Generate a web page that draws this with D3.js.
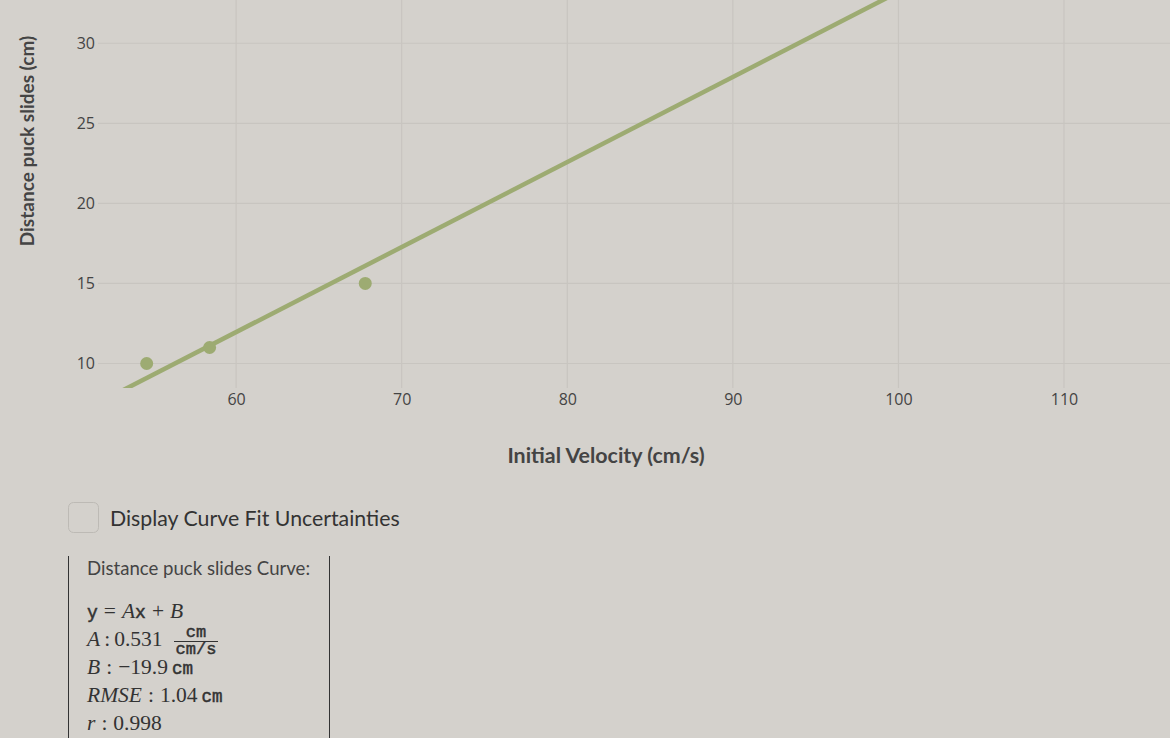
<!DOCTYPE html>
<html><head><meta charset="utf-8">
<script src="https://cdn.jsdelivr.net/npm/d3@7"></script>
<style>
html,body{margin:0;padding:0;background:#d4d1cc;overflow:hidden;}
svg{display:block;}
</style></head>
<body>
<div id="chart"></div>
<script>
// ---- data ----
const velocity = [54.6, 58.4, 67.8];          // Initial Velocity (cm/s)
const distance = [10.0, 11.0, 15.0];          // Distance puck slides (cm)
const xTicks = [60, 70, 80, 90, 100, 110];
const yTicks = [10, 15, 20, 25, 30];
const fitA = 0.531, fitB = -19.9, fitRMSE = 1.04, fitR = 0.998;

const W = 1170, H = 738;
const svg = d3.select("#chart").append("svg").attr("width", W).attr("height", H);

const plot = {left: 98, right: 1170, top: 0, bottom: 388};
const x = d3.scaleLinear().domain([51.66, 116.4]).range([plot.left, plot.right]);
const y = d3.scaleLinear().domain([8.47, 32.7]).range([plot.bottom, plot.top]);

svg.append("defs").append("clipPath").attr("id","clip")
  .append("rect").attr("x",plot.left).attr("y",plot.top)
  .attr("width",plot.right-plot.left).attr("height",plot.bottom-plot.top);

const grid = "#c8c5c0";
svg.append("g").selectAll("line").data(xTicks).join("line")
  .attr("x1", d=>x(d)).attr("x2", d=>x(d)).attr("y1", plot.top).attr("y2", plot.bottom)
  .attr("stroke", grid).attr("stroke-width", 1.2);
svg.append("g").selectAll("line").data(yTicks).join("line")
  .attr("x1", plot.left).attr("x2", plot.right).attr("y1", d=>y(d)).attr("y2", d=>y(d))
  .attr("stroke", grid).attr("stroke-width", 1.2);

const xAxis = d3.axisBottom(x).tickValues(xTicks).tickSize(0).tickPadding(6);
const gx = svg.append("g").attr("transform",`translate(0,${plot.bottom})`).call(xAxis);
const yAxis = d3.axisLeft(y).tickValues(yTicks).tickSize(0).tickPadding(3);
const gy = svg.append("g").attr("transform",`translate(${plot.left},0)`).call(yAxis);
[gx, gy].forEach(g=>{
  g.select(".domain").remove();
  g.selectAll("text").attr("fill","#444").style("font-family","'Open Sans', sans-serif").style("font-size","16px");
});

const color = "#9dab72";
const lineX = d3.extent(x.domain());
const g = svg.append("g").attr("clip-path","url(#clip)");
g.append("path")
  .datum(lineX.map(v=>[v, fitA*v + fitB]))
  .attr("d", d3.line().x(d=>x(d[0])).y(d=>y(d[1])))
  .attr("stroke", color).attr("stroke-width", 4.5).attr("fill","none");
g.selectAll("circle").data(velocity.map((v,i)=>[v, distance[i]])).join("circle")
  .attr("cx", d=>x(d[0])).attr("cy", d=>y(d[1])).attr("r", 6.5).attr("fill", color);

svg.append("text").attr("x", 606).attr("y", 463).attr("text-anchor","middle")
  .attr("fill","#444").style("font-family","Lato, sans-serif").style("font-weight","bold").style("font-size","21.4px")
  .text("Initial Velocity (cm/s)");
svg.append("text").attr("transform","translate(34,141) rotate(-90)").attr("text-anchor","middle")
  .attr("fill","#444").style("font-family","Lato, sans-serif").style("font-weight","bold").style("font-size","19px")
  .text("Distance puck slides (cm)");

svg.append("rect").attr("x",68.5).attr("y",502.5).attr("width",30).attr("height",30).attr("rx",5)
  .attr("fill","#d4d1cc").attr("stroke","#bdbab5").attr("stroke-width",1);
svg.append("text").attr("x",110).attr("y",526).attr("fill","#333")
  .style("font-family","Lato, sans-serif").style("font-size","21.3px")
  .text("Display Curve Fit Uncertainties");

svg.append("line").attr("x1",68.5).attr("x2",68.5).attr("y1",556).attr("y2",738).attr("stroke","#333");
svg.append("line").attr("x1",329.5).attr("x2",329.5).attr("y1",556).attr("y2",738).attr("stroke","#333");
svg.append("text").attr("x",87).attr("y",575).attr("fill","#444")
  .style("font-family","Lato, sans-serif").style("font-size","18.6px")
  .text("Distance puck slides Curve:");

const mono = "'Liberation Mono','DejaVu Sans Mono',monospace";
function mline(yb, parts){
  const t = svg.append("text").attr("x",87).attr("y",yb).attr("fill","#333").style("font-size","21.5px");
  parts.forEach(p=>{
    const s = t.append("tspan").text(p.t)
      .style("font-family", p.mono ? mono : "'Liberation Serif',serif")
      .style("font-style", p.i ? "italic" : "normal")
      .style("font-weight", p.b ? "bold" : "normal");
    if (p.dx) s.attr("dx", p.dx);
    if (p.fs) s.style("font-size", p.fs);
    if (p.mono) s.attr("stroke","#333").attr("stroke-width",0.5);
  });
  return t;
}
mline(618, [{t:"y",mono:true,fs:"18px"},{t:"=",dx:6},{t:"A",i:true,dx:6},{t:"x",mono:true,fs:"18px"},{t:"+",dx:6},{t:"B",i:true,dx:6}]);
mline(646, [{t:"A",i:true},{t:":",dx:4},{t:String(fitA),dx:4}]);
svg.append("text").attr("x",196).attr("y",637).attr("text-anchor","middle").attr("fill","#333")
  .attr("stroke","#333").attr("stroke-width",0.5)
  .style("font-family",mono).style("font-size","17px").text("cm");
svg.append("line").attr("x1",174).attr("x2",218).attr("y1",641.5).attr("y2",641.5).attr("stroke","#333").attr("stroke-width",1.2);
svg.append("text").attr("x",196).attr("y",654).attr("text-anchor","middle").attr("fill","#333")
  .attr("stroke","#333").attr("stroke-width",0.5)
  .style("font-family",mono).style("font-size","17px").text("cm/s");
mline(674, [{t:"B",i:true},{t:":",dx:6},{t:"−"+Math.abs(fitB),dx:6},{t:"cm",mono:true,fs:"17.5px",dx:4}]);
mline(702, [{t:"RMSE",i:true},{t:":",dx:6},{t:String(fitRMSE),dx:6},{t:"cm",mono:true,fs:"17.5px",dx:4}]);
mline(730, [{t:"r",i:true},{t:":",dx:6},{t:String(fitR),dx:6}]);
</script>
</body></html>
